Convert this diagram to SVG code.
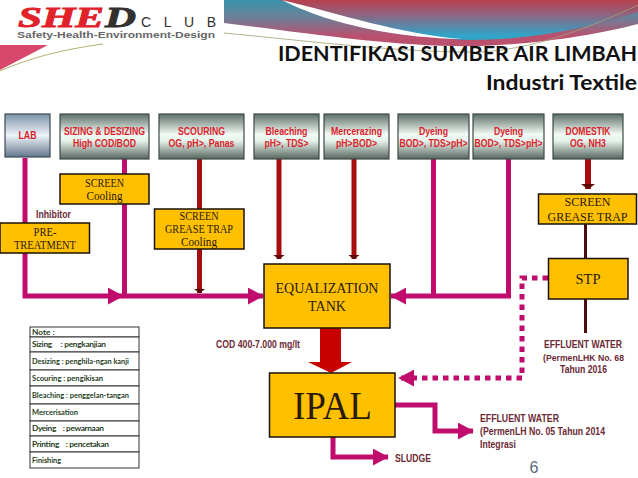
<svg xmlns="http://www.w3.org/2000/svg" width="638" height="478" viewBox="0 0 638 478">
<style>
.src{fill:url(#gr);stroke:#3f4a45;stroke-width:1.2}
.srct{font:bold 10.5px "Liberation Sans",Arial,sans-serif;fill:#dc1f2c;text-anchor:middle}
.box{fill:#ffc000;stroke:#1a1208;stroke-width:1.5}
.boxt{font-family:"Liberation Serif","Times New Roman",serif;fill:#2a1a08;text-anchor:middle}
.lbl{font:bold 10.5px "Liberation Sans",Arial,sans-serif;fill:#6b2a35}
.pink{fill:none;stroke:#c00d6d;stroke-width:5}
.red{fill:none;stroke:#a80d0d;stroke-width:5}
.dark{fill:none;stroke:#4d0d0d;stroke-width:3}
.note{font:bold 8.300px Lato,"Open Sans",sans-serif;fill:#1f3d25}
.cell{fill:#fff;stroke:#333;stroke-width:1}
.title{font-family:Lato,"Open Sans",sans-serif;font-weight:700;fill:#111;text-anchor:end}
</style>
<defs>
<linearGradient id="gr" x1="0" y1="0" x2="0" y2="1"><stop offset="0" stop-color="#5d6f67"/><stop offset=".45" stop-color="#f2fbf5"/><stop offset=".6" stop-color="#e4f2ea"/><stop offset="1" stop-color="#56655e"/></linearGradient>
<linearGradient id="bl" x1="0" y1="0" x2="0" y2="1"><stop offset="0" stop-color="#7d93a8"/><stop offset=".5" stop-color="#eef3f9"/><stop offset="1" stop-color="#62768c"/></linearGradient>
<linearGradient id="sky" gradientUnits="userSpaceOnUse" x1="0" y1="0" x2="0" y2="42"><stop offset="0" stop-color="#b8404f"/><stop offset=".35" stop-color="#8f6480"/><stop offset=".85" stop-color="#30a5c8"/></linearGradient>
<linearGradient id="low" gradientUnits="userSpaceOnUse" x1="0" y1="0" x2="0" y2="36"><stop offset="0" stop-color="#3792a8"/><stop offset=".5" stop-color="#6f7f98"/><stop offset="1" stop-color="#b9516e"/></linearGradient>
<marker id="mp" viewBox="0 0 10 10" refX="9.500" refY="5" markerWidth="3.200" markerHeight="3.400" orient="auto" markerUnits="strokeWidth" preserveAspectRatio="none"><path d="M0 0L10 5L0 10Z" fill="#c00d6d"/></marker>
<marker id="mr" viewBox="0 0 10 10" refX="9.500" refY="5" markerWidth=".9" markerHeight="2.400" orient="auto" markerUnits="strokeWidth" preserveAspectRatio="none"><path d="M0 0L10 5L0 10Z" fill="#5a0808"/></marker>
</defs>

<g id="banner">
<path d="M224 0H638V24C600 34 540 44 480 46C400 48 300 32 224 23Z" fill="url(#low)"/>
<path d="M280 0H638V12C590 28 530 40 470 40C410 38 350 18 280 0Z" fill="url(#sky)"/>
<path d="M282 0C340 14 400 34 462 39C400 38 350 26 320 16C300 9 290 4 282 0Z" fill="#fff"/>
<path d="M224 33C300 40 400 53 480 52C530 50 590 28 638 5" fill="none" stroke="#a0a070" stroke-width=".8"/>
<path d="M0 45H48L0 70Z" fill="#d9486a"/>
<path d="M0 71C30 58 60 50 103 44" fill="none" stroke="#b4b070" stroke-width="1"/>
</g>
<g id="logo">
<text x="18" y="27" font-family="Liberation Serif,serif" font-style="italic" font-weight="700" font-size="29" fill="#e0222a" stroke="#e0222a" stroke-width=".9" textLength="86" lengthAdjust="spacingAndGlyphs">SHE</text>
<text x="105" y="27" font-family="Liberation Serif,serif" font-style="italic" font-weight="700" font-size="29" fill="#33302e" stroke="#33302e" stroke-width=".9" textLength="31" lengthAdjust="spacingAndGlyphs">D</text>
<text x="141" y="27" font-family="Liberation Sans,sans-serif" font-size="14" fill="#33302e" textLength="75">CLUB</text>
<text x="17" y="37.500" font-family="Liberation Sans,sans-serif" font-weight="700" font-size="9.500" fill="#666" textLength="198" lengthAdjust="spacingAndGlyphs">Safety-Health-Environment-Design</text>
</g>
<g id="title">
<text class="title" x="637" y="61" font-size="21" textLength="359" lengthAdjust="spacingAndGlyphs">IDENTIFIKASI SUMBER AIR LIMBAH</text>
<text class="title" x="637" y="90" font-size="21" textLength="151" lengthAdjust="spacingAndGlyphs">Industri Textile</text>
</g>

<g id="connectors">
<path class="pink" d="M25 158V296H123" marker-end="url(#mp)"/>
<path class="pink" d="M124.500 155V296H263" marker-end="url(#mp)"/>
<path class="pink" d="M433.500 159V296"/>
<path class="pink" d="M508.500 159V296H391" marker-end="url(#mp)"/>
<path class="red" d="M199.500 159V293" marker-end="url(#mr)"/>
<path class="red" d="M279 159V259" marker-end="url(#mr)"/>
<path class="red" d="M354 159V259" marker-end="url(#mr)"/>
<path class="red" d="M588 159V189" marker-end="url(#mr)" style="stroke-width:6"/>
<path class="dark" d="M585.500 224V258"/>
<path class="dark" d="M585.500 299V333"/>
<path d="M320 328H341V362H352L331 373L308 362H320Z" fill="#c90000"/>
<path class="pink" d="M548 278H522V378H399" stroke-dasharray="5.500 5" marker-end="url(#mp)"/>
<path class="pink" d="M395 405H435V431H473" marker-end="url(#mp)"/>
<path class="pink" d="M333 437V457H388" marker-end="url(#mp)"/>
</g>

<g id="lab"><rect x="5" y="114" width="45" height="43" fill="url(#bl)" stroke="#3f4a55" stroke-width="1.200"/><text class="srct" x="27.500" y="139" textLength="18" lengthAdjust="spacingAndGlyphs">LAB</text></g>
<g id="sizing"><rect class="src" x="60" y="114" width="89" height="45"/><text class="srct" x="104.500" y="135" textLength="81" lengthAdjust="spacingAndGlyphs">SIZING &amp; DESIZING</text><text class="srct" x="104.500" y="147" textLength="63" lengthAdjust="spacingAndGlyphs">High COD/BOD</text></g>
<g id="scouring"><rect class="src" x="159" y="114" width="85" height="45"/><text class="srct" x="201.500" y="135" textLength="47" lengthAdjust="spacingAndGlyphs">SCOURING</text><text class="srct" x="201.500" y="147" textLength="66" lengthAdjust="spacingAndGlyphs">OG, pH&gt;, Panas</text></g>
<g id="bleaching"><rect class="src" x="254" y="114" width="65" height="45"/><text class="srct" x="286.500" y="135" textLength="42" lengthAdjust="spacingAndGlyphs">Bleaching</text><text class="srct" x="286.500" y="147" textLength="44" lengthAdjust="spacingAndGlyphs">pH&gt;, TDS&gt;</text></g>
<g id="mercerazing"><rect class="src" x="324" y="114" width="65" height="45"/><text class="srct" x="356.500" y="135" textLength="51" lengthAdjust="spacingAndGlyphs">Mercerazing</text><text class="srct" x="356.500" y="147" textLength="41" lengthAdjust="spacingAndGlyphs">pH&gt;BOD&gt;</text></g>
<g id="dyeing1"><rect class="src" x="398" y="114" width="71" height="45"/><text class="srct" x="433.500" y="135" textLength="29" lengthAdjust="spacingAndGlyphs">Dyeing</text><text class="srct" x="433.500" y="147" textLength="68" lengthAdjust="spacingAndGlyphs">BOD&gt;, TDS&gt;pH&gt;</text></g>
<g id="dyeing2"><rect class="src" x="473" y="114" width="71" height="45"/><text class="srct" x="508.500" y="135" textLength="29" lengthAdjust="spacingAndGlyphs">Dyeing</text><text class="srct" x="508.500" y="147" textLength="68" lengthAdjust="spacingAndGlyphs">BOD&gt;, TDS&gt;pH&gt;</text></g>
<g id="domestik"><rect class="src" x="553" y="114" width="70" height="45"/><text class="srct" x="588" y="135" textLength="45" lengthAdjust="spacingAndGlyphs">DOMESTIK</text><text class="srct" x="588" y="147" textLength="36" lengthAdjust="spacingAndGlyphs">OG, NH3</text></g>

<g id="screen-cooling"><rect class="box" x="60" y="174" width="89" height="30"/><text class="boxt" x="104.500" y="187" font-size="11.500" textLength="39" lengthAdjust="spacingAndGlyphs">SCREEN</text><text class="boxt" x="104.500" y="200" font-size="11.500" textLength="36" lengthAdjust="spacingAndGlyphs">Cooling</text></g>
<g id="screen-grease-cooling"><rect class="box" x="154.500" y="209" width="89.500" height="40"/><text class="boxt" x="199" y="220" font-size="11.500" textLength="39" lengthAdjust="spacingAndGlyphs">SCREEN</text><text class="boxt" x="199" y="233" font-size="11.500" textLength="68" lengthAdjust="spacingAndGlyphs">GREASE TRAP</text><text class="boxt" x="199" y="246" font-size="11.500" textLength="36" lengthAdjust="spacingAndGlyphs">Cooling</text></g>
<g id="pre-treatment"><rect class="box" x="0" y="223" width="89.500" height="30"/><text class="boxt" x="45" y="236" font-size="11.500" textLength="23" lengthAdjust="spacingAndGlyphs">PRE-</text><text class="boxt" x="45" y="249" font-size="11.500" textLength="62" lengthAdjust="spacingAndGlyphs">TREATMENT</text></g>
<g id="equalization"><rect class="box" x="264" y="264" width="126" height="64"/><text class="boxt" x="327" y="293" font-size="14.500" textLength="103" lengthAdjust="spacingAndGlyphs">EQUALIZATION</text><text class="boxt" x="327" y="311" font-size="14.500" textLength="38" lengthAdjust="spacingAndGlyphs">TANK</text></g>
<g id="screen-grease"><rect class="box" x="538.500" y="194" width="98" height="30"/><text class="boxt" x="587.500" y="206" font-size="12.500" textLength="46" lengthAdjust="spacingAndGlyphs">SCREEN</text><text class="boxt" x="587.500" y="221" font-size="12.500" textLength="80" lengthAdjust="spacingAndGlyphs">GREASE TRAP</text></g>
<g id="stp"><rect class="box" x="548.500" y="258.500" width="79.500" height="40.500"/><text class="boxt" x="588" y="284" font-size="14.500">STP</text></g>
<g id="ipal"><rect class="box" x="269.500" y="373" width="125.500" height="64"/><text class="boxt" x="332.500" y="419" font-size="40" textLength="79" lengthAdjust="spacingAndGlyphs">IPAL</text></g>

<g id="labels">
<text class="lbl" x="36" y="218" textLength="35" lengthAdjust="spacingAndGlyphs">Inhibitor</text>
<text class="lbl" x="216" y="348" textLength="84" lengthAdjust="spacingAndGlyphs">COD 400-7.000 mg/lt</text>
<text class="lbl" x="544" y="348" textLength="78" lengthAdjust="spacingAndGlyphs">EFFLUENT WATER</text>
<text class="lbl" x="543" y="361" textLength="81" lengthAdjust="spacingAndGlyphs" style="font-size:9.500px">(PermenLHK No. 68</text>
<text class="lbl" x="560" y="373" textLength="47" lengthAdjust="spacingAndGlyphs">Tahun 2016</text>
<text class="lbl" x="480" y="422" textLength="79" lengthAdjust="spacingAndGlyphs">EFFLUENT WATER</text>
<text class="lbl" x="480" y="435" textLength="125" lengthAdjust="spacingAndGlyphs">(PermenLH No. 05 Tahun 2014</text>
<text class="lbl" x="480" y="448" textLength="36" lengthAdjust="spacingAndGlyphs">Integrasi</text>
<text class="lbl" x="395" y="462" textLength="36" lengthAdjust="spacingAndGlyphs">SLUDGE</text>
<text x="534" y="473" text-anchor="middle" font-family="Liberation Sans,sans-serif" font-size="16" fill="#5a6b7d">6</text>
</g>

<g id="note-table">
<rect class="cell" x="30" y="327" width="109" height="10"/>
<rect class="cell" x="30" y="337" width="109" height="15"/>
<rect class="cell" x="30" y="352" width="109" height="18"/>
<rect class="cell" x="30" y="370" width="109" height="16"/>
<rect class="cell" x="30" y="386" width="109" height="18"/>
<rect class="cell" x="30" y="404" width="109" height="17"/>
<rect class="cell" x="30" y="421" width="109" height="15"/>
<rect class="cell" x="30" y="436" width="109" height="16"/>
<rect class="cell" x="30" y="452" width="109" height="16"/>
<text class="note" x="32" y="335">Note :</text>
<text class="note" x="32" y="347" xml:space="preserve" textLength="74" lengthAdjust="spacing">Sizing     : pengkanjian</text>
<text class="note" x="32" y="364" textLength="97" lengthAdjust="spacingAndGlyphs">Desizing : penghila-ngan kanji</text>
<text class="note" x="32" y="381" textLength="71" lengthAdjust="spacingAndGlyphs">Scouring  : pengikisan</text>
<text class="note" x="32" y="398" textLength="97" lengthAdjust="spacingAndGlyphs">Bleaching : penggelan-tangan</text>
<text class="note" x="32" y="415" textLength="46" lengthAdjust="spacingAndGlyphs">Mercerisation</text>
<text class="note" x="32" y="431" xml:space="preserve" textLength="72" lengthAdjust="spacing">Dyeing    : pewarnaan</text>
<text class="note" x="32" y="447" xml:space="preserve" textLength="77" lengthAdjust="spacing">Printing    : pencetakan</text>
<text class="note" x="32" y="463" textLength="29" lengthAdjust="spacingAndGlyphs">Finishing</text>
</g>
</svg>
